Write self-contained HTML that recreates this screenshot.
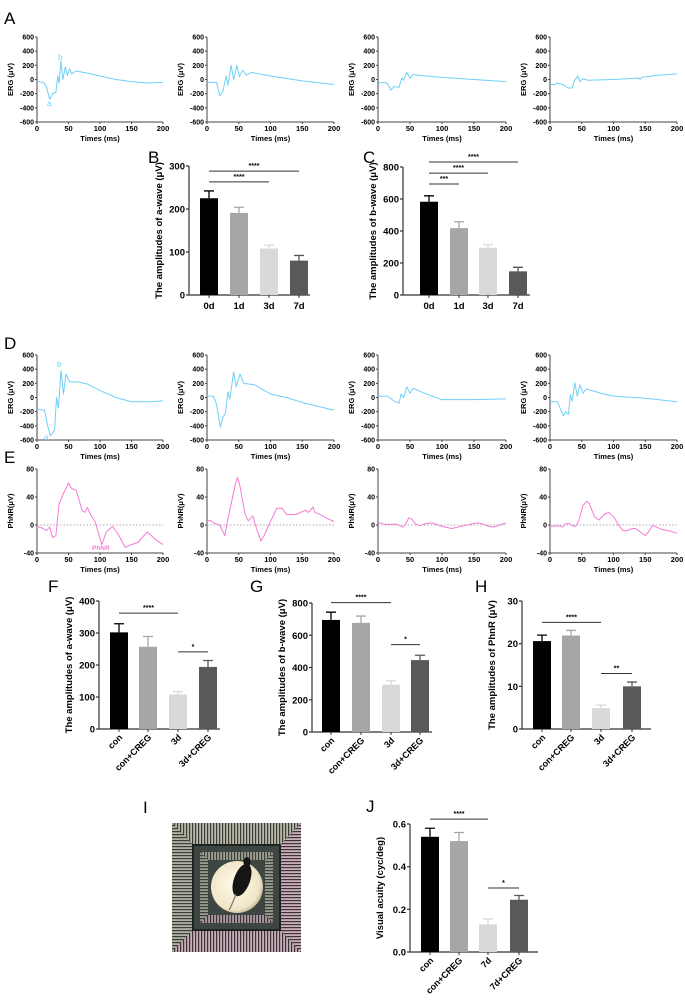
<!DOCTYPE html>
<html><head><meta charset="utf-8"><style>
html,body{margin:0;padding:0;background:#fff}
svg{display:block;font-family:"Liberation Sans",Arial,sans-serif}
</style></head><body>
<svg id="fig" width="685" height="1000" viewBox="0 0 685 1000" xmlns="http://www.w3.org/2000/svg">
<defs>
<pattern id="stripeV" width="3" height="4" patternUnits="userSpaceOnUse"><rect width="3" height="4" fill="#b9b8a8"/><rect width="1.2" height="4" fill="#3a3d38"/></pattern>
<pattern id="stripeH" width="4" height="3" patternUnits="userSpaceOnUse"><rect width="4" height="3" fill="#aeb2a2"/><rect width="4" height="1.2" fill="#3a3d38"/></pattern>
<pattern id="stripeHp" width="4" height="3" patternUnits="userSpaceOnUse"><rect width="4" height="3" fill="#c9afb9"/><rect width="4" height="1.2" fill="#3c3437"/></pattern>
<pattern id="stripeVp" width="3" height="4" patternUnits="userSpaceOnUse"><rect width="3" height="4" fill="#c8aebb"/><rect width="1.2" height="4" fill="#3a3336"/></pattern>
<radialGradient id="plate" cx="0.45" cy="0.45" r="0.6"><stop offset="0" stop-color="#fffbe8"/><stop offset="0.8" stop-color="#efe6c8"/><stop offset="1" stop-color="#b9ae8a"/></radialGradient>
</defs>
<g id="root"></g>
</svg>
<script>
// ---------- ERG traces (x ms, y µV) ----------
const ergA1=[[0,-30],[10,-40],[15,-100],[20,-280],[25,-200],[30,-180],[33,50],[35,-50],[38,260],[41,0],[45,180],[48,60],[52,150],[55,80],[62,120],[80,90],[100,50],[125,0],[150,-30],[175,-50],[200,-40]];
const ergA2=[[0,-40],[15,-40],[20,-230],[25,-170],[30,50],[33,-80],[38,200],[42,0],[47,200],[51,40],[56,130],[62,60],[70,100],[100,50],[150,-20],[200,-70]];
const ergA3=[[0,-50],[10,-40],[15,-60],[20,-150],[25,-100],[33,-110],[37,20],[40,-10],[45,100],[50,20],[55,70],[75,50],[100,30],[150,0],[200,-30]];
const ergA4=[[0,-60],[7,-80],[10,-50],[20,-70],[28,-120],[35,-120],[38,-20],[44,50],[47,-30],[52,10],[60,-10],[100,0],[140,20],[142,0],[144,30],[170,60],[200,80]];
const ergD1=[[0,-170],[12,-180],[17,-400],[21,-540],[25,-500],[28,-450],[31,0],[34,-150],[38,380],[42,50],[46,330],[52,220],[65,220],[80,190],[100,100],[125,0],[150,-60],[175,-60],[200,-50]];
const ergD2=[[0,20],[10,20],[15,-100],[21,-420],[25,-280],[29,-220],[33,80],[36,-20],[42,360],[46,150],[52,330],[58,200],[75,180],[100,50],[125,0],[150,-70],[200,-180]];
const ergD3=[[0,20],[15,20],[25,-50],[33,-80],[36,50],[40,0],[45,150],[50,60],[55,130],[75,50],[100,-30],[150,-30],[200,-20]];
const ergD4=[[0,-60],[12,-60],[18,-200],[21,-260],[25,-200],[29,-240],[32,40],[35,-50],[39,210],[43,20],[47,180],[52,60],[57,120],[65,100],[80,60],[100,20],[150,-10],[200,-60]];
// ---------- PhNR traces ----------
const phn1=[[0,-2],[10,-5],[15,-8],[20,-3],[25,-18],[30,-15],[35,30],[42,45],[50,60],[55,52],[62,50],[72,20],[76,18],[80,25],[85,15],[92,5],[97,-10],[103,-28],[110,-10],[120,-2],[130,-15],[140,-32],[150,-28],[160,-25],[175,-10],[190,-22],[200,-28]];
const phn2=[[0,5],[5,7],[10,3],[20,0],[28,-15],[32,5],[38,30],[45,60],[48,68],[52,55],[60,15],[65,6],[72,13],[78,-5],[85,-23],[90,-15],[100,5],[110,24],[118,24],[125,15],[140,15],[155,21],[160,18],[167,26],[170,18],[180,14],[190,9],[200,5]];
const phn3=[[0,2],[5,3],[10,1],[30,1],[38,-3],[42,0],[48,10],[52,9],[58,2],[65,-1],[75,2],[85,3],[100,-2],[115,-5],[130,-2],[145,1],[155,3],[162,2],[170,-1],[180,-3],[190,0],[200,3]];
const phn4=[[0,-2],[15,-1],[20,-3],[25,2],[30,2],[35,-1],[40,-2],[45,5],[52,28],[58,34],[62,30],[70,12],[77,7],[85,15],[92,18],[100,12],[108,0],[115,-8],[122,-8],[130,-5],[135,-5],[142,-10],[150,-15],[155,-10],[162,0],[165,-2],[175,-6],[190,-9],[200,-12]];
const ergTicks=[600,400,200,0,-200,-400,-600];
const phnTicks=[80,40,0,-40];
const timeTicks=[0,50,100,150,200];
// ---------- Bar data ----------
const catsDay=["0d","1d","3d","7d"];
const catsF=["con","con+CREG","3d","3d+CREG"];
const catsJ=["con","con+CREG","7d","7d+CREG"];
const valB=[225,191,108,80], errB=[17,13,8,12];
const valC=[583,418,295,148], errC=[37,40,20,25];
const valF=[302,257,108,194], errF=[27,32,9,20];
const valG=[695,677,293,446], errG=[48,42,25,30];
const valH=[20.6,21.9,4.9,10], errH=[1.4,1.2,0.7,1];
const valJ=[0.54,0.52,0.13,0.245], errJ=[0.04,0.04,0.025,0.02];
const ticksB=[0,100,200,300], ticksC=[0,200,400,600,800], ticksF=[0,100,200,300,400], ticksG=[0,200,400,600,800], ticksH=[0,10,20,30], ticksJ=["0.0","0.2","0.4","0.6"];
const sigB=[[0,3,288,"****"],[0,2,263,"****"]];
const sigC=[[0,3,831,"****"],[0,2,762,"****"],[0,1,694,"***"]];
const sigF=[[0,2,362,"****"],[2,3,241,"*"]];
const sigG=[[0,2,802,"****"],[2,3,542,"*"]];
const sigH=[[0,2,25,"****"],[2,3,13,"**"]];
const sigJ=[[0,2,0.623,"****"],[2,3,0.30,"*"]];
const barColors=["#000000","#a6a6a6","#d9d9d9","#595959"];

const NS="http://www.w3.org/2000/svg";
const root=document.getElementById('root');
function el(tag,attrs,parent,text){const e=document.createElementNS(NS,tag);for(const k in attrs)e.setAttribute(k,attrs[k]);if(text!==undefined)e.textContent=text;(parent||root).appendChild(e);return e;}

function panelLabel(t,x,y){const e=el('text',{x:x,y:y,'font-size':17},root,t);

}

function trace(name,data,x0,x1,yTop,yBot,ymax,ymin,ticks,color,ytitle,dotted){
 const g=el('g',{});
 
 
 const sx=v=>x0+(v/200)*(x1-x0);
 const sy=v=>yTop+(ymax-v)/(ymax-ymin)*(yBot-yTop);
 el('line',{x1:x0,y1:yTop,x2:x0,y2:yBot,stroke:'#444','stroke-width':1},g);
 el('line',{x1:x0,y1:yBot,x2:x1,y2:yBot,stroke:'#444','stroke-width':1},g);
 ticks.forEach(t=>{el('line',{x1:x0-2,y1:sy(t),x2:x0,y2:sy(t),stroke:'#444'},g);
  el('text',{x:x0-3,y:sy(t)+2.5,'font-size':7,'font-weight':'bold','text-anchor':'end'},g,t);});
 timeTicks.forEach(t=>{el('line',{x1:sx(t),y1:yBot,x2:sx(t),y2:yBot+2,stroke:'#444'},g);
  el('text',{x:sx(t),y:yBot+9,'font-size':7.5,'font-weight':'bold','text-anchor':'middle'},g,t);});
 el('text',{x:(x0+x1)/2,y:yBot+19,'font-size':7.5,'font-weight':'bold','text-anchor':'middle'},g,'Times (ms)');
 const yt=el('text',{x:0,y:0,'font-size':7.5,'font-weight':'bold','text-anchor':'middle',transform:`translate(${x0-24},${(yTop+yBot)/2}) rotate(-90)`},g,ytitle);
 
 
 if(dotted) el('line',{x1:x0,y1:sy(0),x2:x1,y2:sy(0),stroke:'#aaa','stroke-dasharray':'1.5,1.8','stroke-width':1},g);
 const p=el('polyline',{points:data.map(d=>sx(d[0])+','+sy(d[1])).join(' '),fill:'none',stroke:color,'stroke-width':1,'stroke-linejoin':'round'},g);
 
 
}

function barChart(name,cats,vals,errs,ticks,ymax,x0,xEnd,yTop,yBot,centers,sig,ytitle,rotate){
 const g=el('g',{});
 
 
 const sy=v=>yBot-(v/ymax)*(yBot-yTop);
 el('line',{x1:x0,y1:yTop,x2:x0,y2:yBot,stroke:'#333','stroke-width':1.2},g);
 el('line',{x1:x0,y1:yBot,x2:xEnd,y2:yBot,stroke:'#333','stroke-width':1.2},g);
 ticks.forEach(t=>{const v=parseFloat(t);el('line',{x1:x0-3,y1:sy(v),x2:x0,y2:sy(v),stroke:'#333','stroke-width':1.2},g);
  el('text',{x:x0-4,y:sy(v)+3.5,'font-size':9.5,'font-weight':'bold','text-anchor':'end'},g,t);});
 const bw=18;
 cats.forEach((c,i)=>{const cx=centers[i];
  const top=sy(vals[i]+errs[i]);
  const eb=el('path',{d:`M${cx},${sy(vals[i])}V${top}M${cx-5},${top}H${cx+5}`,stroke:barColors[i],'stroke-width':1.3,fill:'none'},g);
  
  
  const r=el('rect',{x:cx-bw/2,y:sy(vals[i]),width:bw,height:yBot-sy(vals[i]),fill:barColors[i]},g);
  
  
  el('line',{x1:cx,y1:yBot,x2:cx,y2:yBot+3,stroke:'#333'},g);
  if(rotate){el('text',{x:0,y:0,'font-size':9,'font-weight':'bold','text-anchor':'end',transform:`translate(${cx+4},${yBot+9}) rotate(-45)`},g,c);}
  else el('text',{x:cx,y:yBot+14,'font-size':9.5,'font-weight':'bold','text-anchor':'middle'},g,c);
 });
 sig.forEach(s=>{const y=sy(s[2]);
  const l=el('line',{x1:centers[s[0]],y1:y,x2:centers[s[1]],y2:y,stroke:'#333','stroke-width':1},g);
  
  
  el('text',{x:(centers[s[0]]+centers[s[1]])/2,y:y-3,'font-size':7,'font-weight':'bold','text-anchor':'middle'},g,s[3]);});
 const yt=el('text',{x:0,y:0,'font-size':9.5,'font-weight':'bold','text-anchor':'middle',transform:`translate(${x0-27},${(yTop+yBot)/2}) rotate(-90)`},g,ytitle);
 
 
}

const cols=[[37,163],[207,334],[378,506],[550,677]];
const blue="#6fd0f7", pink="#f47bd6";
[ergA1,ergA2,ergA3,ergA4].forEach((d,i)=>trace('erg-a-'+(i+1),d,cols[i][0],cols[i][1],37,122,600,-600,ergTicks,blue,'ERG (μV)'));
[ergD1,ergD2,ergD3,ergD4].forEach((d,i)=>trace('erg-d-'+(i+1),d,cols[i][0],cols[i][1],355,440,600,-600,ergTicks,blue,'ERG (μV)'));
[phn1,phn2,phn3,phn4].forEach((d,i)=>trace('phnr-e-'+(i+1),d,cols[i][0],cols[i][1],469,553,80,-40,phnTicks,pink,'PhNR(μV)',true));
el('text',{x:58,y:60,'font-size':8,fill:blue},root,'b');
el('text',{x:47,y:106,'font-size':8,fill:blue},root,'a');
el('text',{x:57,y:367,'font-size':8,fill:blue},root,'b');
el('text',{x:44,y:440,'font-size':8,fill:blue},root,'a');
el('text',{x:92,y:550,'font-size':6.5,'font-weight':'bold',fill:pink},root,'PhNR');

barChart('chart-b',catsDay,valB,errB,ticksB,300,189,310,166,295,[209,239,269,299],sigB,'The amplitudes of a-wave (μV)',false);
barChart('chart-c',catsDay,valC,errC,ticksC,800,403,530,167,295,[429,459,488,518],sigC,'The amplitudes of b-wave (μV)',false);
barChart('chart-f',catsF,valF,errF,ticksF,400,99,220,601,729,[119,148,178,208],sigF,'The amplitudes of a-wave (μV)',true);
barChart('chart-g',catsF,valG,errG,ticksG,800,312,432,603,732,[331,361,391,420],sigG,'The amplitudes of b-wave (μV)',true);
barChart('chart-h',catsF,valH,errH,ticksH,30,522,651,601,729,[542,571,601,632],sigH,'The amplitudes of PhnR (μV)',true);
barChart('chart-j',catsJ,valJ,errJ,ticksJ,0.6,410,538,824,952,[430,459,488,519],sigJ,'Visual acuity (cyc/deg)',true);

// Photo I
const ph=el('g',{});


el('rect',{x:172,y:823,width:129,height:129,fill:'#2e332f'},ph);
el('polygon',{points:'172,823 301,823 280,845 193,845',fill:'url(#stripeV)'},ph);
el('polygon',{points:'172,823 193,845 193,930 172,952',fill:'url(#stripeH)'},ph);
el('polygon',{points:'301,823 301,952 280,930 280,845',fill:'url(#stripeHp)'},ph);
el('polygon',{points:'172,952 193,930 280,930 301,952',fill:'url(#stripeVp)'},ph);
el('rect',{x:193,y:845,width:87,height:85,fill:'#3d4640',stroke:'#1f2320','stroke-width':2},ph);
el('polygon',{points:'200,852 273,852 265,860 208,860',fill:'url(#stripeV)',opacity:0.8},ph);
el('polygon',{points:'200,852 208,860 208,915 200,923',fill:'url(#stripeH)',opacity:0.8},ph);
el('polygon',{points:'273,852 273,923 265,915 265,860',fill:'url(#stripeH)',opacity:0.8},ph);
el('polygon',{points:'200,923 273,923 265,915 208,915',fill:'url(#stripeVp)',opacity:0.8},ph);
el('circle',{cx:237,cy:887,r:26,fill:'url(#plate)'},ph);
el('ellipse',{cx:242,cy:880,rx:8,ry:17,fill:'#151515',transform:'rotate(20 242 880)'},ph);
el('ellipse',{cx:247,cy:862,rx:3.5,ry:5,fill:'#151515'},ph);
el('path',{d:'M236,894 Q232,905 229,910',stroke:'#8a6f60','stroke-width':1.2,fill:'none'},ph);

panelLabel('A',4,24);panelLabel('B',148,163);panelLabel('C',363,163);
panelLabel('D',4,349);panelLabel('E',4,463);panelLabel('F',48,592);
panelLabel('G',250,592);panelLabel('H',475,592);panelLabel('I',143,813);panelLabel('J',366,812);
</script>
</body></html>
